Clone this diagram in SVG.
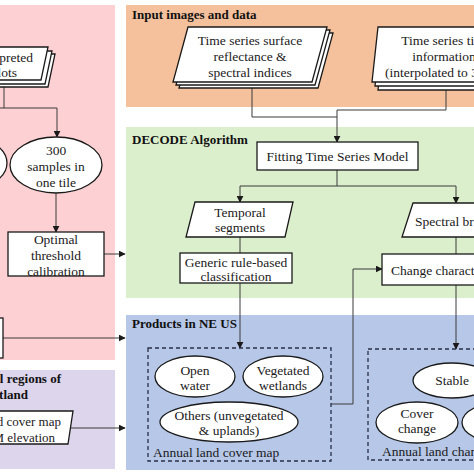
<svg xmlns="http://www.w3.org/2000/svg" width="474" height="474" viewBox="0 0 474 474">
  <defs>
    <marker id="arr" viewBox="0 0 10 10" refX="9" refY="5" markerWidth="7" markerHeight="7" markerUnits="userSpaceOnUse" orient="auto">
      <path d="M0,0 L10,5 L0,10 z" fill="#1a1a1a"/>
    </marker>
    <style>
      .panel { stroke: none; }
      .shape { fill: #ffffff; stroke: #1a1a1a; stroke-width: 1.3; }
      .dash { fill: none; stroke: #2a2f45; stroke-width: 1.3; stroke-dasharray: 4 3; }
      .conn { fill: none; stroke: #3a3a3a; stroke-width: 1; }
      .t { font-family: "Liberation Serif", "Times New Roman", serif; font-size: 13.5px; fill: #1a1a1a; }
      .s { font-size: 13px; }
      .c { text-anchor: middle; }
      .e { text-anchor: end; }
      .h { font-family: "Liberation Serif", "Times New Roman", serif; font-size: 13px; font-weight: bold; fill: #111111; }
    </style>
  </defs>

  <rect width="474" height="474" fill="#ffffff"/>

  <!-- background panels -->
  <g id="panels">
    <rect class="panel" x="0" y="5" width="115" height="355" fill="#fdd1d3"/>
    <rect class="panel" x="0" y="370" width="115" height="99" fill="#ddd5eb"/>
    <rect class="panel" x="126" y="5" width="348" height="102" fill="#f5c19d"/>
    <rect class="panel" x="126" y="127" width="348" height="171" fill="#dcefcd"/>
    <rect class="panel" x="126" y="315" width="348" height="155" fill="#b6c7e8"/>
  </g>

  <!-- panel headings -->
  <g id="headings">
    <text class="h" x="132" y="19">Input images and data</text>
    <text class="h" x="132" y="144">DECODE Algorithm</text>
    <text class="h" x="132" y="328">Products in NE US</text>
    <text class="h e" x="61" y="383">Potential regions of</text>
    <text class="h e" x="28" y="399">wetland</text>
  </g>

  <!-- connectors -->
  <g id="connectors">
    <!-- interpreted plots to samples -->
    <path class="conn" d="M4,86 V108"/>
    <path class="conn" d="M0,108 H57 V137" marker-end="url(#arr)"/>
    <path class="conn" d="M56,193 V232" marker-end="url(#arr)"/>
    <path class="conn" d="M104,254 H125" marker-end="url(#arr)"/>
    <path class="conn" d="M3,338 H125" marker-end="url(#arr)"/>
    <path class="conn" d="M71,428 H125" marker-end="url(#arr)"/>
    <!-- inputs to model -->
    <path class="conn" d="M252,88 V117 H337"/>
    <path class="conn" d="M446,90 V110 H337 V142" marker-end="url(#arr)"/>
    <!-- model to outputs -->
    <path class="conn" d="M337,170 V186"/>
    <path class="conn" d="M240,186 H456"/>
    <path class="conn" d="M240,186 V202" marker-end="url(#arr)"/>
    <path class="conn" d="M456,186 V203" marker-end="url(#arr)"/>
    <path class="conn" d="M240,237 V253"/>
    <path class="conn" d="M240,283 V348" marker-end="url(#arr)"/>
    <path class="conn" d="M456,237 V254"/>
    <path class="conn" d="M456,285 V349" marker-end="url(#arr)"/>
    <path class="conn" d="M331,404 H353 V269 H382" marker-end="url(#arr)"/>
  </g>

  <!-- reference plots -->
  <g id="node-plots">
    <polygon class="shape" points="-63,54 55,54 48,87 -70,87"/>
    <polygon class="shape" points="-66,51 52,51 45,84 -73,84"/>
    <polygon class="shape" points="-70,47 48,47 41,80 -77,80"/>
    <text class="t e" x="33" y="61.5">Interpreted</text>
    <text class="t e" x="17" y="76.5">plots</text>
  </g>

  <g id="node-other-samples">
    <ellipse class="shape" cx="-39" cy="163" rx="46" ry="28"/>
  </g>

  <g id="node-samples">
    <ellipse class="shape" cx="56" cy="165" rx="46" ry="28"/>
    <text class="t c" x="56" y="154.5">300</text>
    <text class="t c" x="56" y="170.5">samples in</text>
    <text class="t c" x="56" y="186.5">one tile</text>
  </g>

  <g id="node-threshold">
    <rect class="shape" x="8" y="232" width="96" height="44"/>
    <text class="t c" x="56" y="243.5">Optimal</text>
    <text class="t c" x="56" y="259.5">threshold</text>
    <text class="t c" x="56" y="275.5">calibration</text>
  </g>

  <g id="node-left-box">
    <rect class="shape" x="-80" y="318" width="83" height="40"/>
  </g>

  <g id="node-ancillary">
    <polygon class="shape" points="-60,411 73,411 68,444 -65,444"/>
    <text class="t s e" x="61" y="425.5">Land cover map</text>
    <text class="t s e" x="55" y="441.5">and DEM elevation</text>
  </g>

  <!-- input data -->
  <g id="node-reflectance">
    <polygon class="shape" points="194,33 333,33 318,88 179,88"/>
    <polygon class="shape" points="191,30 330,30 315,85 176,85"/>
    <polygon class="shape" points="188,27 327,27 312,82 173,82"/>
    <text class="t c" x="250" y="44.5">Time series surface</text>
    <text class="t c" x="250" y="60.5">reflectance &amp;</text>
    <text class="t c" x="250" y="76.5">spectral indices</text>
  </g>

  <g id="node-tide">
    <polygon class="shape" points="384,35 528,35 522,90 378,90"/>
    <polygon class="shape" points="381,31 525,31 519,86 375,86"/>
    <polygon class="shape" points="378,27 522,27 516,82 372,82"/>
    <text class="t c" x="444" y="44.5">Time series tide</text>
    <text class="t c" x="444" y="60.5">information</text>
    <text class="t c" x="444" y="76.5">(interpolated to 30 m)</text>
  </g>

  <!-- algorithm -->
  <g id="node-fitting">
    <rect class="shape" x="257" y="142" width="161" height="28"/>
    <text class="t c" x="337.5" y="160.5">Fitting Time Series Model</text>
  </g>

  <g id="node-segments">
    <polygon class="shape" points="195,202 293,202 285,237 186,237"/>
    <text class="t c" x="240" y="216.5">Temporal</text>
    <text class="t c" x="240" y="231.5">segments</text>
  </g>

  <g id="node-classification">
    <rect class="shape" x="180" y="253" width="112" height="30"/>
    <text class="t c" x="236" y="266.5">Generic rule-based</text>
    <text class="t c" x="236" y="281">classification</text>
  </g>

  <g id="node-breaks">
    <polygon class="shape" points="413,203 520,203 510,237 402,237"/>
    <text class="t" x="415" y="225.5">Spectral breaks</text>
  </g>

  <g id="node-change-char">
    <rect class="shape" x="382" y="254" width="130" height="31"/>
    <text class="t" x="391" y="274.5">Change characteristics</text>
  </g>

  <!-- products -->
  <g id="node-cover-map">
    <rect class="dash" x="148" y="348" width="183" height="113"/>
    <text class="t" x="153" y="457">Annual land cover map</text>
  </g>

  <g id="node-open-water">
    <ellipse class="shape" cx="195" cy="376.5" rx="40" ry="20.5"/>
    <text class="t c" x="195" y="374.5">Open</text>
    <text class="t c" x="195" y="390">water</text>
  </g>

  <g id="node-wetlands">
    <ellipse class="shape" cx="283" cy="376.5" rx="40" ry="20.5"/>
    <text class="t c" x="283" y="374.5">Vegetated</text>
    <text class="t c" x="283" y="390">wetlands</text>
  </g>

  <g id="node-others">
    <ellipse class="shape" cx="229" cy="422" rx="69" ry="20"/>
    <text class="t c" x="229" y="419.5">Others (unvegetated</text>
    <text class="t c" x="229" y="434.5">&amp; uplands)</text>
  </g>

  <g id="node-change-map">
    <rect class="dash" x="368" y="349" width="130" height="111"/>
    <text class="t" x="382" y="456">Annual land change map</text>
  </g>

  <g id="node-stable">
    <ellipse class="shape" cx="452" cy="380.5" rx="39" ry="17.5"/>
    <text class="t c" x="452" y="385">Stable</text>
  </g>

  <g id="node-cover-change">
    <ellipse class="shape" cx="417" cy="422.5" rx="41" ry="20.5"/>
    <text class="t c" x="417" y="417.5">Cover</text>
    <text class="t c" x="417" y="432.5">change</text>
  </g>

  <g id="node-other-change">
    <ellipse class="shape" cx="503" cy="422.5" rx="41" ry="20.5"/>
  </g>
</svg>
